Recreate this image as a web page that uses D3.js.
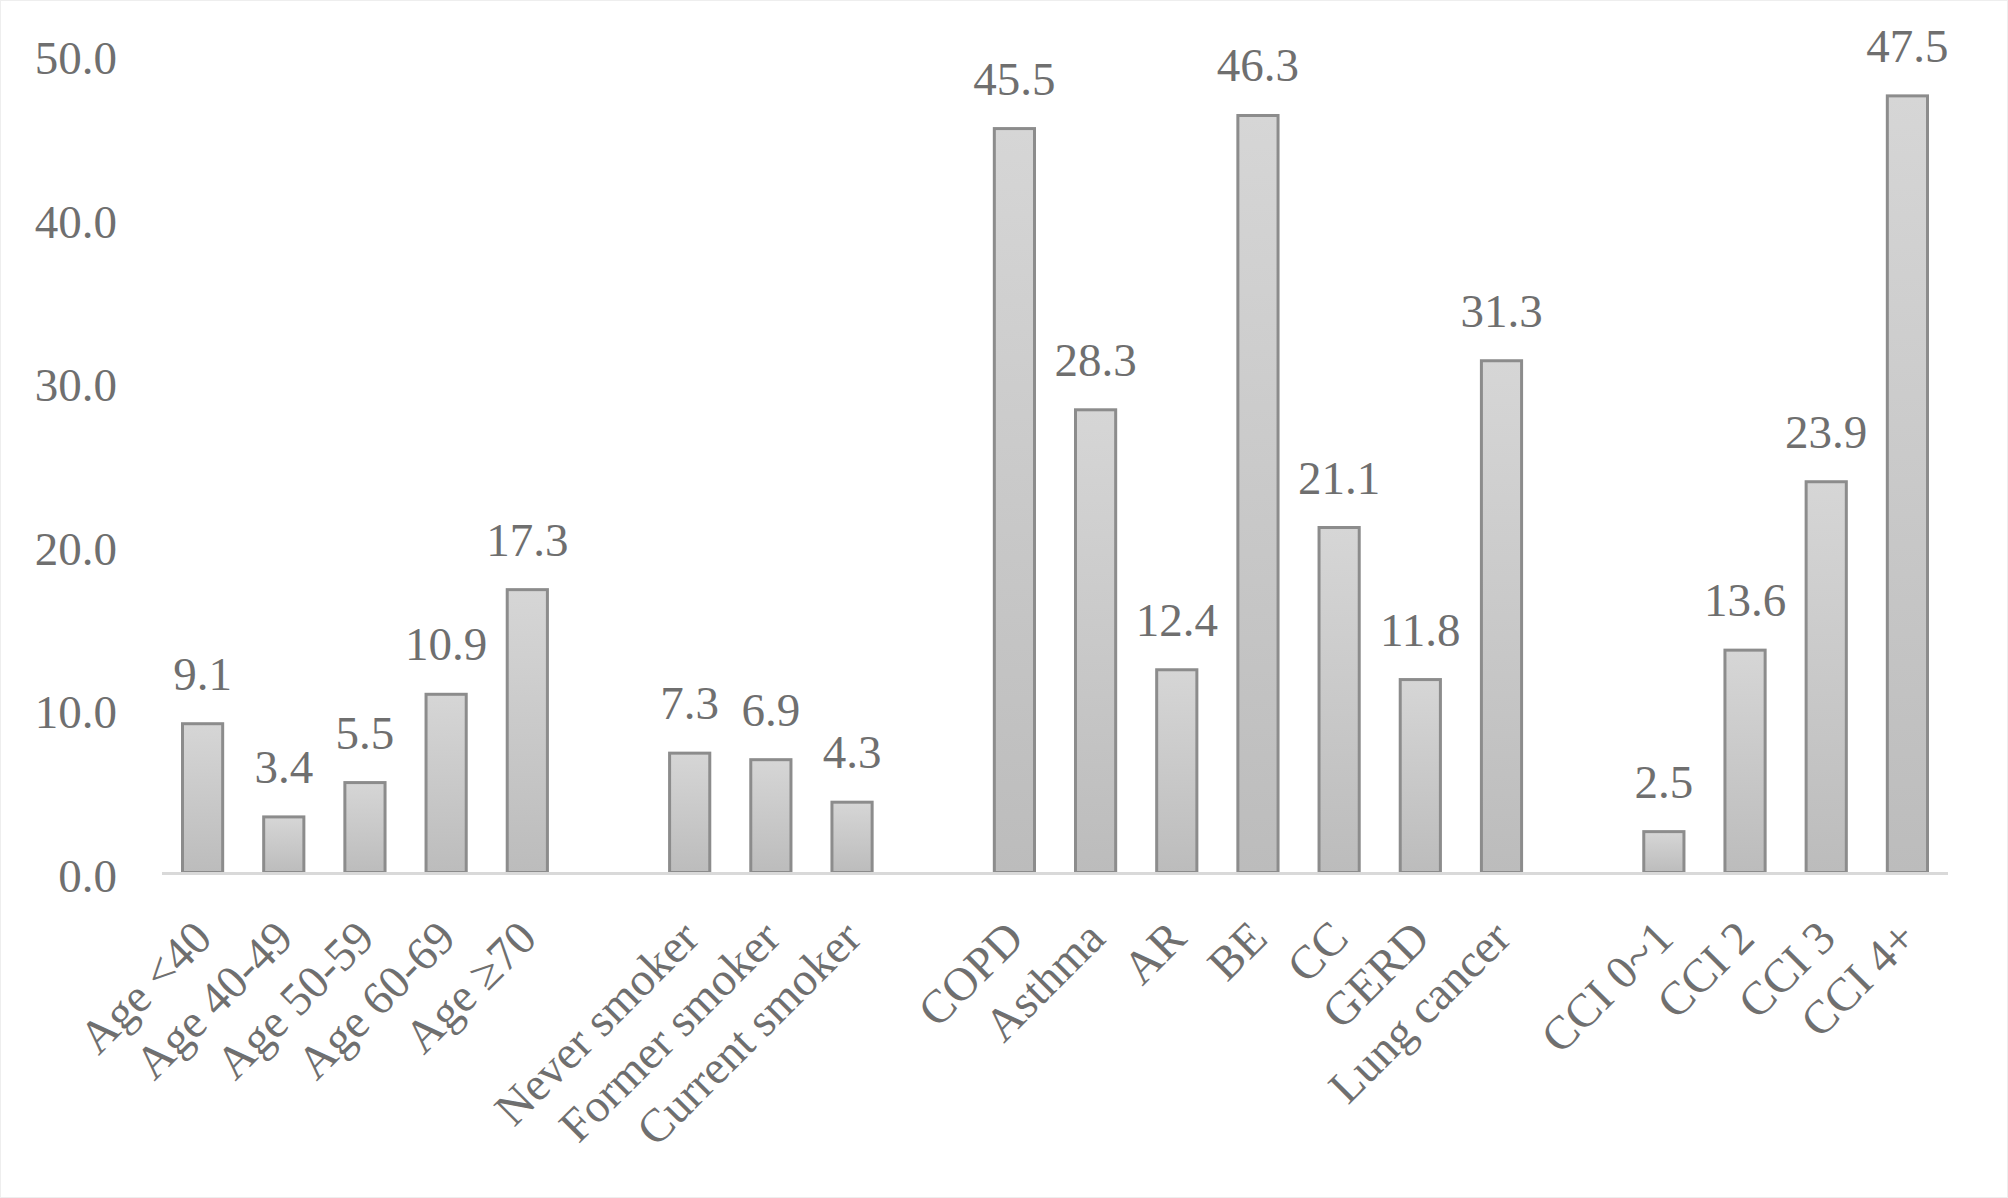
<!DOCTYPE html>
<html>
<head>
<meta charset="utf-8">
<script src="https://cdn.jsdelivr.net/npm/d3@7"></script>
<style>
  html, body { margin: 0; padding: 0; background: #ffffff; }
  svg { display: block; }
</style>
</head>
<body>
<svg id="chart" width="2008" height="1198"></svg>
<script>
// Categories ("" marks an empty spacer slot between groups)
const categories = [
  "Age <40", "Age 40-49", "Age 50-59", "Age 60-69", "Age \u226570",
  "",
  "Never smoker", "Former smoker", "Current smoker",
  "",
  "COPD", "Asthma", "AR", "BE", "CC", "GERD", "Lung cancer",
  "",
  "CCI 0~1", "CCI 2", "CCI 3", "CCI 4+"
];
const values = [
  9.1, 3.4, 5.5, 10.9, 17.3,
  null,
  7.3, 6.9, 4.3,
  null,
  45.5, 28.3, 12.4, 46.3, 21.1, 11.8, 31.3,
  null,
  2.5, 13.6, 23.9, 47.5
];
const yTicks = [0, 10, 20, 30, 40, 50];

const svg = d3.select("#chart");
const W = 2008, H = 1198;
const FONT = "'Liberation Serif', 'Times New Roman', serif";
const TEXT = "#6f6f6f";

// faint image border
svg.append("rect").attr("x", 0.5).attr("y", 0.5).attr("width", W - 1).attr("height", H - 1)
  .attr("fill", "none").attr("stroke", "#eeeeee").attr("stroke-width", 1);

const x = d3.scaleBand()
  .domain(d3.range(categories.length))
  .range([162, 1948])
  .paddingInner(0.505)
  .paddingOuter(0.2525);

const y = d3.scaleLinear().domain([0, 50]).range([872.5, 55]);

// gradient
const defs = svg.append("defs");
const grad = defs.append("linearGradient").attr("id", "barGrad")
  .attr("x1", 0).attr("y1", 0).attr("x2", 0).attr("y2", 1);
grad.append("stop").attr("offset", "0%").attr("stop-color", "#d6d6d6");
grad.append("stop").attr("offset", "100%").attr("stop-color", "#bcbcbc");

// Y axis (labels only)
const yAxis = d3.axisLeft(y).tickValues(yTicks).tickFormat(d3.format(".1f")).tickSize(0).tickPadding(0);
const yg = svg.append("g").attr("transform", "translate(117,0)").call(yAxis);
yg.select(".domain").remove();
yg.selectAll("text")
  .attr("font-family", FONT).attr("font-size", 47).attr("fill", TEXT)
  .attr("dy", "0.40em");

// bars
const data = categories.map((c, i) => ({ i, c, v: values[i] })).filter(d => d.v !== null);
svg.append("g").selectAll("rect").data(data).join("rect")
  .attr("x", d => x(d.i))
  .attr("width", x.bandwidth())
  .attr("y", d => y(d.v))
  .attr("height", d => y(0) - y(d.v))
  .attr("fill", "url(#barGrad)")
  .attr("stroke", "#8c8c8c")
  .attr("stroke-width", 3);

// X axis line
svg.append("line")
  .attr("x1", x.range()[0]).attr("x2", x.range()[1])
  .attr("y1", y(0) + 1).attr("y2", y(0) + 1)
  .attr("stroke", "#d9d9d9").attr("stroke-width", 3);

// value labels
svg.append("g").selectAll("text").data(data).join("text")
  .attr("x", d => x(d.i) + x.bandwidth() / 2)
  .attr("y", d => y(d.v) - 34)
  .attr("text-anchor", "middle")
  .attr("font-family", FONT).attr("font-size", 47).attr("fill", TEXT)
  .text(d => d.v.toFixed(1));

// category labels (rotated -45)
svg.append("g").selectAll("text").data(categories.map((c, i) => ({ c, i })).filter(d => d.c !== ""))
  .join("text")
  .attr("transform", d => `translate(${x(d.i) + x.bandwidth() / 2},929) rotate(-45)`)
  .attr("text-anchor", "end")
  .attr("dy", "0.35em")
  .attr("font-family", FONT).attr("font-size", 47).attr("fill", TEXT)
  .text(d => d.c);
</script>
</body>
</html>
